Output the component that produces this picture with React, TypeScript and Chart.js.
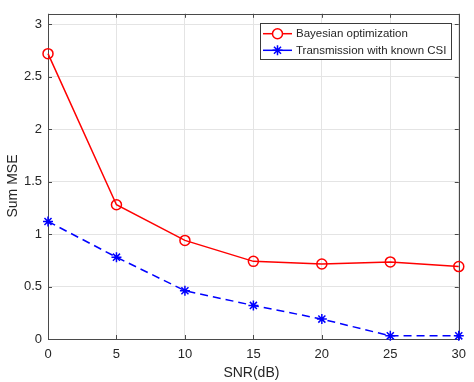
import React, { useEffect, useRef } from "react";
import { Chart, registerables } from "chart.js";

Chart.register(...registerables);

const snr = [0, 5, 10, 15, 20, 25, 30];
const bayesian = [2.72, 1.28, 0.94, 0.74, 0.715, 0.735, 0.69];
const knownCsi = [1.12, 0.78, 0.46, 0.32, 0.19, 0.03, 0.03];
const xTicks = [0, 5, 10, 15, 20, 25, 30];
const yTicks = [0, 0.5, 1, 1.5, 2, 2.5, 3];
const seriesNames = ["Bayesian optimization", "Transmission with known CSI"];
const xTitle = "SNR(dB)";
const yTitle = "Sum MSE";

const FONT = "'Liberation Sans', Arial, Helvetica, sans-serif";
const AXIS = "#4a4a4a";
const TEXT = "#262626";

function drawStar(ctx: CanvasRenderingContext2D, x: number, y: number, r: number) {
  ctx.beginPath();
  for (let i = 0; i < 4; i++) {
    const a = (i * Math.PI) / 4;
    ctx.moveTo(x - r * Math.cos(a), y - r * Math.sin(a));
    ctx.lineTo(x + r * Math.cos(a), y + r * Math.sin(a));
  }
  ctx.stroke();
}

const framePlugin = {
  id: "frame",
  beforeDatasetsDraw(chart: any) {
    const { ctx, chartArea } = chart;
    const { left, right, top, bottom } = chartArea;
    const xs = chart.scales.x;
    const ys = chart.scales.y;
    ctx.save();
    ctx.strokeStyle = AXIS;
    ctx.lineWidth = 1;
    ctx.strokeRect(Math.round(left) + 0.5, Math.round(top) + 0.5, Math.round(right - left), Math.round(bottom - top));
    ctx.beginPath();
    const tl = 4;
    xTicks.forEach((v) => {
      const px = Math.round(xs.getPixelForValue(v)) + 0.5;
      ctx.moveTo(px, bottom);
      ctx.lineTo(px, bottom - tl);
      ctx.moveTo(px, top);
      ctx.lineTo(px, top + tl);
    });
    yTicks.forEach((v) => {
      const py = Math.round(ys.getPixelForValue(v)) + 0.5;
      ctx.moveTo(left, py);
      ctx.lineTo(left + tl, py);
      ctx.moveTo(right, py);
      ctx.lineTo(right - tl, py);
    });
    ctx.stroke();
    ctx.restore();
  },
  afterDraw(chart: any) {
    const { ctx, chartArea } = chart;
    const { left, right } = chartArea;
    ctx.save();
    // axis titles
    ctx.fillStyle = TEXT;
    ctx.font = `14px ${FONT}`;
    ctx.textAlign = "center";
    ctx.textBaseline = "middle";
    ctx.fillText(xTitle, (left + right) / 2 - 2, 373);
    ctx.save();
    ctx.translate(13, 186);
    ctx.rotate(-Math.PI / 2);
    ctx.fillText(yTitle, 0, 0);
    ctx.restore();

    // legend
    const bx = 260.5, by = 23.5, bw = 191, bh = 36;
    ctx.fillStyle = "#ffffff";
    ctx.fillRect(bx, by, bw, bh);
    ctx.strokeStyle = "#3a3a3a";
    ctx.lineWidth = 1;
    ctx.strokeRect(bx, by, bw, bh);
    const rows = [33.7, 50.3];
    const colors = ["#ff0000", "#0000ff"];
    rows.forEach((ry, i) => {
      ctx.strokeStyle = colors[i];
      ctx.lineWidth = 1.5;
      ctx.beginPath();
      ctx.moveTo(263, ry);
      ctx.lineTo(292, ry);
      ctx.stroke();
      if (i === 0) {
        ctx.beginPath();
        ctx.arc(277.5, ry, 5, 0, Math.PI * 2);
        ctx.fillStyle = "#ffffff";
        ctx.fill();
        ctx.stroke();
      } else {
        drawStar(ctx, 277.5, ry, 5);
      }
      ctx.fillStyle = TEXT;
      ctx.font = `11.5px ${FONT}`;
      ctx.textAlign = "left";
      ctx.textBaseline = "middle";
      ctx.fillText(seriesNames[i], 296, ry + 0.5);
    });
    ctx.restore();
  },
};

export default function App() {
  const ref = useRef<HTMLCanvasElement>(null);
  useEffect(() => {
    document.body.style.margin = "0";
    const canvas = ref.current!;
    const chart = new Chart(canvas, {
      type: "line",
      data: {
        datasets: [
          {
            label: seriesNames[0],
            data: snr.map((x, i) => ({ x, y: bayesian[i] })),
            borderColor: "#ff0000",
            borderWidth: 1.5,
            pointStyle: "circle",
            pointRadius: 5,
            pointBorderWidth: 1.5,
            pointBorderColor: "#ff0000",
            pointBackgroundColor: "rgba(0,0,0,0)",
            tension: 0,
            clip: false,
          } as any,
          {
            label: seriesNames[1],
            data: snr.map((x, i) => ({ x, y: knownCsi[i] })),
            borderColor: "#0000ff",
            borderWidth: 1.5,
            borderDash: [8, 5],
            pointStyle: "star",
            pointRadius: 5,
            pointBorderWidth: 1.5,
            pointBorderColor: "#0000ff",
            pointBackgroundColor: "#0000ff",
            tension: 0,
            clip: false,
          } as any,
        ],
      },
      options: {
        responsive: false,
        animation: false,
        devicePixelRatio: 1,
        layout: { padding: { top: 11, right: 10.5, left: 0, bottom: 0 } },
        plugins: { legend: { display: false }, tooltip: { enabled: false } },
        scales: {
          x: {
            type: "linear",
            min: 0,
            max: 30,
            afterBuildTicks: (s: any) => {
              s.ticks = xTicks.map((v) => ({ value: v }));
            },
            afterFit: (s: any) => {
              s.height = 43;
            },
            ticks: {
              font: { family: FONT, size: 13 },
              color: TEXT,
              padding: 8,
              maxRotation: 0,
              autoSkip: false,
              callback: (v: any) => String(v),
            },
            grid: { color: "#e4e4e4", drawTicks: false, lineWidth: 1 },
            border: { display: false },
          },
          y: {
            type: "linear",
            min: 0,
            max: 3.1,
            afterBuildTicks: (s: any) => {
              s.ticks = yTicks.map((v) => ({ value: v }));
            },
            afterFit: (s: any) => {
              s.width = 48;
            },
            ticks: {
              font: { family: FONT, size: 13 },
              color: TEXT,
              padding: 6,
              autoSkip: false,
              callback: (v: any) => String(v),
            },
            grid: { color: "#e4e4e4", drawTicks: false, lineWidth: 1 },
            border: { display: false },
          },
        },
      },
      plugins: [framePlugin],
    } as any);
    return () => chart.destroy();
  }, []);
  return (
    <div style={{ width: 474, height: 382 }}>
      <canvas ref={ref} width={474} height={382} />
    </div>
  );
}
